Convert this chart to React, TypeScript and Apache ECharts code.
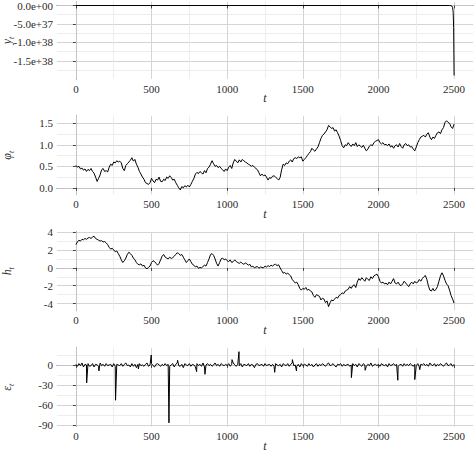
import React, { useEffect, useRef } from "react";
import * as echarts from "echarts";

// ---------- data ----------
const xTicks = [0, 500, 1000, 1500, 2000, 2500];
const xTickLabels = ["0", "500", "1000", "1500", "2000", "2500"];
const xMinor = [250, 750, 1250, 1750, 2250];
const sampleStep = 10; // phi, h and eps noise are read every 10 time steps

// panel 1: y_t
const yTimes = [0, 2470, 2480, 2485, 2490, 2494, 2497, 2500];
const yValues = [0, 0, -4e35, -1.5e36, -5e36, -1.8e37, -6e37, -1.9e38];
const yTicks = [0, -5e37, -1e38, -1.5e38];
const yTickLabels = ["0.0e+00", "-5.0e+37", "-1.0e+38", "-1.5e+38"];
const yMinor = [-2.5e37, -7.5e37, -1.25e38, -1.75e38];

// panel 2: phi_t
const phiValues = [
  0.52, 0.48, 0.5, 0.44, 0.46, 0.41, 0.44, 0.38, 0.43, 0.4,
  0.45, 0.38, 0.34, 0.25, 0.15, 0.22, 0.3, 0.42, 0.45, 0.38,
  0.4, 0.37, 0.48, 0.55, 0.52, 0.6, 0.58, 0.63, 0.6, 0.62,
  0.58, 0.45, 0.4, 0.52, 0.56, 0.6, 0.64, 0.7, 0.62, 0.66,
  0.55, 0.48, 0.38, 0.32, 0.25, 0.2, 0.12, 0.1, 0.08, 0.12,
  0.22, 0.16, 0.12, 0.2, 0.18, 0.25, 0.15, 0.14, 0.2, 0.17,
  0.25, 0.22, 0.28, 0.24, 0.18, 0.2, 0.12, 0.06, 0.0, -0.05,
  0.03, 0.0, 0.05, 0.02, 0.06, 0.02, 0.08, 0.15, 0.22, 0.32,
  0.36, 0.33, 0.38, 0.35, 0.32, 0.4, 0.35, 0.45, 0.48, 0.55,
  0.63, 0.56, 0.5, 0.52, 0.47, 0.5, 0.45, 0.42, 0.38, 0.44,
  0.4, 0.48, 0.52, 0.45, 0.58, 0.66, 0.62, 0.58, 0.65, 0.6,
  0.66, 0.63, 0.6, 0.58, 0.55, 0.53, 0.5, 0.52, 0.48, 0.45,
  0.42, 0.35, 0.28, 0.32, 0.28, 0.3, 0.25, 0.18, 0.24, 0.22,
  0.27, 0.28, 0.25, 0.22, 0.18, 0.24, 0.42, 0.55, 0.52, 0.58,
  0.56, 0.62, 0.65, 0.6, 0.68, 0.7, 0.68, 0.72, 0.7, 0.72,
  0.62, 0.66, 0.7, 0.75, 0.8, 0.84, 0.92, 0.88, 0.85, 0.9,
  0.95, 1.05, 1.15, 1.22, 1.25, 1.3, 1.35, 1.45, 1.42, 1.38,
  1.4, 1.32, 1.35, 1.28, 1.2, 1.1, 0.98, 0.93, 1.0, 0.98,
  1.05, 1.0, 0.96, 1.02, 0.98, 1.05, 0.96, 1.0, 0.97, 0.94,
  0.99, 0.92, 0.86, 0.9, 0.97, 1.0, 0.98, 1.05, 1.08, 1.1,
  1.12, 1.05, 1.02, 1.05, 1.0, 1.01, 0.98, 1.02, 0.95, 0.98,
  0.92, 0.98, 1.0, 0.95, 1.03, 0.96, 0.92, 1.0, 1.03, 0.98,
  1.0, 0.95, 0.96, 0.9, 0.86, 0.95, 1.05, 1.12, 1.18, 1.2,
  1.22, 1.18, 1.25, 1.28, 1.18, 1.12, 1.18, 1.15, 1.22, 1.28,
  1.3, 1.26, 1.35, 1.4, 1.52, 1.56, 1.52, 1.5, 1.42, 1.38,
  1.48,
];
const phiTicks = [0, 0.5, 1, 1.5];
const phiTickLabels = ["0.0", "0.5", "1.0", "1.5"];
const phiMinor = [0.25, 0.75, 1.25];

// panel 3: h_t
const hValues = [
  2.6, 2.9, 3.1, 3.0, 3.2, 3.15, 3.3, 3.2, 3.35, 3.4,
  3.3, 3.45, 3.55, 3.3, 3.2, 3.1, 3.0, 3.05, 2.9, 2.95,
  2.8, 2.6, 2.3, 2.1, 2.2, 2.0, 1.8, 1.9, 1.6, 1.3,
  0.9, 0.6, 0.8, 1.1, 1.5, 1.75, 1.6, 1.4, 1.1, 0.9,
  0.6, 0.4, 0.35, 0.45, 0.2, 0.3, 0.0, -0.1, 0.05, 0.2,
  0.6, 0.8, 0.7, 0.5, 0.3, 0.5, 0.9, 1.3, 1.5, 1.2,
  1.1, 1.0, 1.2, 1.05, 1.15, 1.3, 1.5, 1.7, 1.6, 1.4,
  1.5, 1.2, 0.9, 0.6, 0.8, 1.0, 0.7, 0.4, 0.3, 0.1,
  0.2, -0.05, 0.05, 0.0, 0.15, 0.3, 0.2, 0.6, 1.0, 1.5,
  1.6, 1.4, 1.0, 0.5, 0.2, 0.6, 1.0, 1.1, 0.9, 1.0,
  0.8, 0.7, 0.9, 0.6, 0.7, 0.9, 0.7, 0.6, 0.5, 0.65,
  0.5, 0.4, 0.55, 0.45, 0.3, 0.4, 0.1, 0.2, 0.0, 0.1,
  0.15, -0.05, 0.1, 0.05, 0.0, 0.2, 0.1, 0.25, 0.15, 0.3,
  0.2, 0.35, 0.4, 0.25, 0.35, 0.0, -0.3, -0.6, -0.5, -0.7,
  -0.6, -0.75, -0.9, -1.3, -1.5, -1.7, -1.6, -1.9, -2.3, -2.5,
  -2.3, -2.4, -2.2, -2.5, -2.4, -2.6, -2.7, -3.1, -3.3, -3.0,
  -3.1, -3.2, -3.6, -3.4, -3.5, -3.9, -3.7, -4.35, -3.9, -3.6,
  -3.7, -3.5, -3.3, -3.4, -3.1, -3.0, -2.8, -2.9, -2.6, -2.5,
  -2.4, -2.1, -2.3, -2.0, -1.9, -2.2, -1.6, -1.2, -1.4, -1.1,
  -1.3, -1.5, -1.1, -1.3, -1.4, -1.0, -1.2, -0.9, -0.8, -0.7,
  -1.0, -1.5, -1.7, -1.6, -1.8, -1.7, -1.9, -1.6, -1.8, -1.5,
  -1.2, -1.7, -1.8, -1.6, -1.9, -2.0, -1.8, -1.5, -1.7, -1.9,
  -2.1, -1.8, -1.6, -1.8, -1.5, -1.7, -1.6, -1.3, -1.5, -1.2,
  -1.0, -0.85, -1.3, -2.0, -2.5, -2.6, -2.3, -2.6, -2.4, -2.1,
  -1.5, -0.9, -0.55, -0.9, -1.4, -1.8, -2.0, -2.5, -3.1, -3.5,
  -3.95,
];
const hTicks = [-4, -2, 0, 2, 4];
const hTickLabels = ["-4", "-2", "0", "2", "4"];
const hMinor = [-3, -1, 1, 3];

// panel 4: eps_t (background noise every 10 steps + isolated spikes)
const epsNoise = [
  1, -2, 2, -1, 3, -3, 1, 0, 2, -2,
  -1, 2, -3, 1, 0, -2, 3, -1, 1, -2,
  2, -1, 0, 1, -3, 2, -2, 1, 0, -1,
  2, -2, 1, 3, -1, 0, -3, 2, -2, 1,
  -4, 1, 2, -1, 0, -2, 1, 3, -2, 0,
  2, -1, -3, 1, 2, 0, -2, 1, -1, 2,
  -1, 1, -2, 0, 2, -3, 1, 3, -1, -2,
  1, -4, 2, 0, -1, 2, -2, 1, 0, -3,
  2, -1, 1, -2, 3, -3, 0, 2, -1, 1,
  -2, 0, 3, -1, 1, -2, 2, 0, -1, 1,
  -1, 2, -2, 1, 3, 0, -2, 1, -1, 2,
  -3, 1, 0, -1, 2, -2, 1, 0, -4, 1,
  2, -1, 0, 1, -2, 2, -1, 0, 1, -2,
  1, -2, 2, 0, -1, 1, -3, 2, 0, -1,
  2, -2, 1, 3, -1, 0, -2, 1, -3, 2,
  -1, 1, 0, -2, 2, -1, 1, -3, 0, 2,
  -2, 1, -1, 2, 0, -2, 1, 3, -1, 0,
  2, -1, -3, 1, 0, 2, -2, 1, -1, 0,
  1, -2, 0, 2, -1, 1, -3, 2, 0, -2,
  2, 0, -2, 1, -1, 3, -2, 0, 1, -1,
  1, -2, 2, 0, -1, 1, -3, 2, -1, 0,
  2, -1, 1, -2, 0, 1, -2, 2, -1, 1,
  -1, 2, 0, -2, 1, -1, 2, -3, 1, 0,
  2, -1, 1, -2, 3, 0, -1, 2, -2, 1,
  -1, 2, 0, -2, 1, 3, -1, 0, 2, -2,
  1,
];
const epsSpikeTimes = [71, 152, 262, 413, 498, 615, 672, 798, 853, 1032, 1078, 1314, 1431, 1458, 1821, 1912, 2128, 2240, 2273];
const epsSpikeValues = [-27, -9, -53, -6, 15, -87, 7, -10, -14, 8, 20, -11, 8, -9, -19, -8, -23, -22, -7];
const epsTicks = [-90, -60, -30, 0];
const epsTickLabels = ["-90", "-60", "-30", "0"];
const epsMinor = [-75, -45, -15, 15];

// ---------- styling ----------
const FONT = "serif";
const TEXT = "#2b2b2b";
const MAJOR = "#d4d4d4";
const MINOR = "#e8e8e8";
const BORDER = "#c4c4c4";

function sampled(values: number[]) {
  return values.map((v, i) => [i * sampleStep, v]);
}

function buildEps() {
  const pts = sampled(epsNoise);
  epsSpikeTimes.forEach((t, i) => pts.push([t, epsSpikeValues[i]]));
  pts.sort((a, b) => a[0] - b[0]);
  return pts;
}

export default function App() {
  const ref = useRef<HTMLDivElement>(null);

  useEffect(() => {
    if (!ref.current) return;
    const chart = echarts.init(ref.current, undefined, { renderer: "svg" });

    const panels = [
      {
        top: 2, height: 77, min: -1.995e38, max: 9.5e36,
        ticks: yTicks, labels: yTickLabels, minor: yMinor,
        name: "y", data: yTimes.map((t, i) => [t, yValues[i]]),
      },
      {
        top: 116, height: 78.5, min: -0.155, max: 1.67,
        ticks: phiTicks, labels: phiTickLabels, minor: phiMinor,
        name: "φ", data: sampled(phiValues),
      },
      {
        top: 232, height: 78.5, min: -4.78, max: 4.02,
        ticks: hTicks, labels: hTickLabels, minor: hMinor,
        name: "h", data: sampled(hValues),
      },
      {
        top: 348, height: 78.5, min: -92.5, max: 25.5,
        ticks: epsTicks, labels: epsTickLabels, minor: epsMinor,
        name: "ε", data: buildEps(),
      },
    ];

    const grid: any[] = [];
    const xAxis: any[] = [];
    const yAxis: any[] = [];
    const series: any[] = [];

    panels.forEach((p, i) => {
      grid.push({
        left: 57, width: 416, top: p.top, height: p.height,
        containLabel: false, outerBoundsMode: "none",
      });
      // major x
      xAxis.push({
        type: "value", gridIndex: i, min: -125, max: 2625, position: "bottom",
        axisLine: { show: true, lineStyle: { color: "#222", width: 1 } },
        axisTick: { show: true, length: 3, customValues: xTicks, lineStyle: { color: "#444" } },
        axisLabel: {
          show: true, customValues: xTicks, margin: 4, color: TEXT, fontFamily: FONT, fontSize: 11,
          formatter: (v: number) => xTickLabels[xTicks.indexOf(v)] ?? "",
        },
        splitLine: { show: true, lineStyle: { color: MAJOR, width: 1 } },
        name: "t", nameLocation: "middle", nameGap: 13, nameMoveOverlap: false,
        nameTextStyle: { fontFamily: FONT, fontStyle: "italic", fontSize: 12, color: TEXT },
      });
      // minor x + top border
      xAxis.push({
        type: "value", gridIndex: i, min: -125, max: 2625, position: "top",
        axisLine: { show: true, lineStyle: { color: BORDER, width: 1 } },
        axisTick: { show: false, customValues: xMinor },
        axisLabel: { show: false },
        splitLine: { show: true, lineStyle: { color: MINOR, width: 0.8 } },
      });
      // major y
      yAxis.push({
        type: "value", gridIndex: i, min: p.min, max: p.max, position: "left",
        axisLine: { show: true, lineStyle: { color: "#222", width: 1 } },
        axisTick: { show: true, length: 3, customValues: p.ticks, lineStyle: { color: "#444" } },
        axisLabel: {
          show: true, customValues: p.ticks, margin: 4, color: TEXT, fontFamily: FONT, fontSize: 11,
          formatter: (v: number) => p.labels[p.ticks.indexOf(v)] ?? "",
        },
        splitLine: { show: true, lineStyle: { color: MAJOR, width: 1 } },
        name: `{m|${p.name}}{s|t}`, nameLocation: "middle", nameGap: 44, nameMoveOverlap: false,
        nameTextStyle: {
          fontFamily: FONT,
          rich: {
            m: { fontFamily: FONT, fontStyle: "italic", fontSize: 12, lineHeight: 12, color: TEXT },
            s: { fontFamily: FONT, fontStyle: "italic", fontSize: 8, lineHeight: 8, padding: [8, 0, 0, 0], color: TEXT },
          },
        },
      });
      // minor y + right border
      yAxis.push({
        type: "value", gridIndex: i, min: p.min, max: p.max, position: "right",
        axisLine: { show: true, lineStyle: { color: BORDER, width: 1 } },
        axisTick: { show: false, customValues: p.minor },
        axisLabel: { show: false },
        splitLine: { show: true, lineStyle: { color: MINOR, width: 0.8 } },
      });
      series.push({
        type: "line", xAxisIndex: 2 * i, yAxisIndex: 2 * i, data: p.data,
        showSymbol: false, symbol: "none", clip: true,
        lineStyle: { color: "#000", width: 1 }, z: 5,
      });
    });

    chart.setOption({
      animation: false,
      backgroundColor: "#ffffff",
      textStyle: { fontFamily: FONT },
      grid, xAxis, yAxis, series,
    });

    return () => chart.dispose();
  }, []);

  return (
    <div
      ref={ref}
      style={{ position: "absolute", left: 0, top: 0, width: 474, height: 451 }}
    />
  );
}
